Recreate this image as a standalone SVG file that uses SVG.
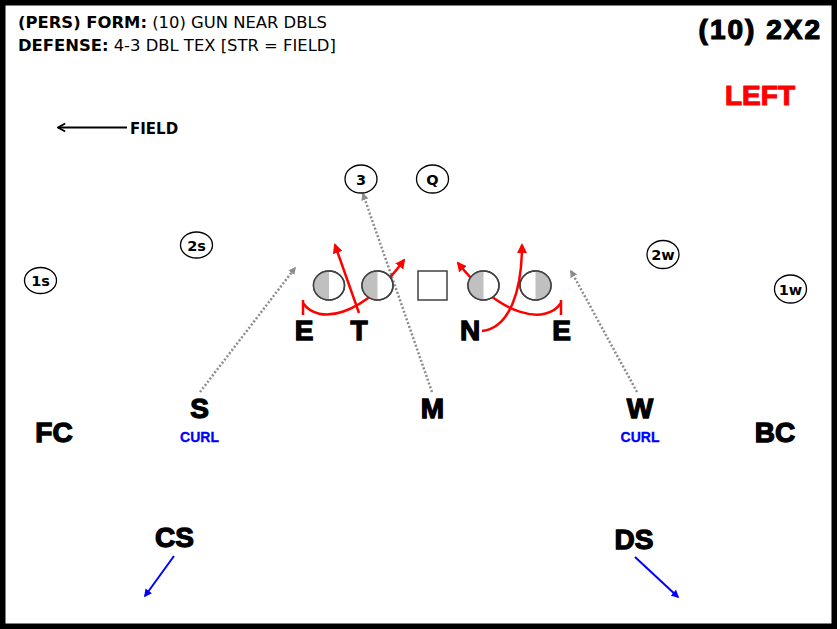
<svg xmlns="http://www.w3.org/2000/svg" width="840" height="629" viewBox="0 0 840 629">
<style>
.hdr{font-family:"DejaVu Sans",Verdana,sans-serif;font-size:16.4px;fill:#000}
.b{font-weight:bold}
.big{font-family:"Liberation Sans",Arial,sans-serif;font-weight:bold;font-size:28px;text-anchor:middle;fill:#000;stroke:#000;stroke-width:1.3}
.curl{font-family:"Liberation Sans",Arial,sans-serif;font-weight:bold;font-size:14px;fill:#0000ff;text-anchor:middle;stroke:#0000ff;stroke-width:0.3}
.oc{fill:#fff;stroke:#000;stroke-width:1.3}
.ol{font-family:"DejaVu Sans",sans-serif;font-weight:bold;font-size:14.5px;text-anchor:middle;fill:#000}
.lm{fill:#fff;stroke:#404040;stroke-width:1.5}
.half{fill:#c0c0c0;stroke:none}
.dash{fill:none;stroke:#8c8c8c;stroke-width:2.5;stroke-dasharray:2 2}
.red{fill:none;stroke:#ff0000;stroke-width:2.5}
.blue{fill:none;stroke:#0000ff;stroke-width:2}
</style>
<defs>
<marker id="ar" viewBox="0 0 10 10" refX="8" refY="5" markerWidth="4" markerHeight="4" orient="auto" markerUnits="strokeWidth"><path d="M0,0 L10,5 L0,10 z" fill="#ff0000"/></marker>
<marker id="ag" viewBox="0 0 10 10" refX="8" refY="5" markerWidth="3" markerHeight="3" orient="auto" markerUnits="strokeWidth"><path d="M0,0 L10,5 L0,10 z" fill="#8c8c8c"/></marker>
<marker id="ab" viewBox="0 0 10 10" refX="8" refY="5" markerWidth="4" markerHeight="4" orient="auto" markerUnits="strokeWidth"><path d="M0,0 L10,5 L0,10 z" fill="#0000ff"/></marker>
<marker id="ak" viewBox="0 0 10 10" refX="9" refY="5" markerWidth="5" markerHeight="6" orient="auto" markerUnits="strokeWidth"><path d="M1,0.5 L9,5 L1,9.5" fill="none" stroke="#000" stroke-width="2"/></marker>
</defs>
<rect x="0" y="0" width="840" height="629" fill="#fff"/>
<rect x="2.75" y="2.75" width="831.5" height="623.5" fill="none" stroke="#000" stroke-width="5.5"/>

<g id="header">
<text class="hdr" x="18" y="28"><tspan class="b">(PERS) FORM:</tspan> (10) GUN NEAR DBLS</text>
<text class="hdr" x="18" y="51"><tspan class="b">DEFENSE:</tspan> 4-3 DBL TEX [STR = FIELD]</text>
<text x="822" y="39" style="font-family:'Liberation Sans',Arial,sans-serif;font-weight:bold;font-size:28px;letter-spacing:2px;text-anchor:end;fill:#000;stroke:#000;stroke-width:1.2">(10) 2X2</text>
<text x="760" y="105" style="font-family:'Liberation Sans',Arial,sans-serif;font-weight:bold;font-size:28px;text-anchor:middle;fill:#ff0000;stroke:#ff0000;stroke-width:1.1">LEFT</text>
</g>

<g id="field">
<line x1="127" y1="127.5" x2="58" y2="127.5" stroke="#000" stroke-width="1.8" marker-end="url(#ak)"/>
<text x="130" y="134" style="font-family:'DejaVu Sans',Verdana,sans-serif;font-weight:bold;font-size:15px;fill:#000">FIELD</text>
</g>

<g id="connectors">
<line class="dash" x1="432" y1="392" x2="363" y2="194" marker-end="url(#ag)"/>
<line class="dash" x1="200" y1="392" x2="295" y2="268" marker-end="url(#ag)"/>
<line class="dash" x1="637" y1="392" x2="571" y2="271" marker-end="url(#ag)"/>
<line x1="303" y1="300" x2="303" y2="315" stroke="#ff0000" stroke-width="2.5"/>
<path class="red" d="M303,303 C318,325 362,318 404,260" marker-end="url(#ar)"/>
<path class="red" d="M359,313 L335,245" marker-end="url(#ar)"/>
<path class="red" d="M482,331 C510,328 522,290 522,245" marker-end="url(#ar)"/>
<line x1="561" y1="300" x2="561" y2="315" stroke="#ff0000" stroke-width="2.5"/>
<path class="red" d="M561,303 C546,325 502,318 458,263" marker-end="url(#ar)"/>
<line class="blue" x1="174" y1="556" x2="145" y2="596" marker-end="url(#ab)"/>
<line class="blue" x1="635" y1="557" x2="678" y2="597" marker-end="url(#ab)"/>
</g>

<g id="n3"><ellipse class="oc" cx="361" cy="179" rx="16" ry="14"/><text class="ol" x="361" y="184.5">3</text></g>
<g id="nQ"><ellipse class="oc" cx="432.5" cy="179" rx="16" ry="14"/><text class="ol" x="432.5" y="184.5">Q</text></g>
<g id="n2s"><ellipse class="oc" cx="196.5" cy="245" rx="16" ry="13"/><text class="ol" x="196.5" y="250.5">2s</text></g>
<g id="n1s"><ellipse class="oc" cx="40.5" cy="280.5" rx="16" ry="13"/><text class="ol" x="40.5" y="286">1s</text></g>
<g id="n2w"><ellipse class="oc" cx="663" cy="254.5" rx="16" ry="14"/><text class="ol" x="663" y="260">2w</text></g>
<g id="n1w"><ellipse class="oc" cx="790.5" cy="289" rx="16" ry="14"/><text class="ol" x="790.5" y="294.5">1w</text></g>

<g id="ol1"><ellipse class="lm" cx="329" cy="285.5" rx="15.5" ry="14.5"/><path class="half" d="M329,271 A15.5,14.5 0 0 0 329,300 Z"/><ellipse cx="329" cy="285.5" rx="15.5" ry="14.5" fill="none" stroke="#404040" stroke-width="1.5"/></g>
<g id="ol2"><ellipse class="lm" cx="377.5" cy="285.5" rx="15.5" ry="14.5"/><path class="half" d="M377.5,271 A15.5,14.5 0 0 0 377.5,300 Z"/><ellipse cx="377.5" cy="285.5" rx="15.5" ry="14.5" fill="none" stroke="#404040" stroke-width="1.5"/></g>
<g id="center"><rect x="418" y="271" width="29" height="29" fill="#fff" stroke="#404040" stroke-width="1.5"/></g>
<g id="ol3"><ellipse class="lm" cx="483.5" cy="285.5" rx="15.5" ry="14.5"/><path class="half" d="M483.5,271 A15.5,14.5 0 0 0 483.5,300 Z"/><ellipse cx="483.5" cy="285.5" rx="15.5" ry="14.5" fill="none" stroke="#404040" stroke-width="1.5"/></g>
<g id="ol4"><ellipse class="lm" cx="535.5" cy="285.5" rx="15.5" ry="14.5"/><path class="half" d="M535.5,271 A15.5,14.5 0 0 1 535.5,300 Z"/><ellipse cx="535.5" cy="285.5" rx="15.5" ry="14.5" fill="none" stroke="#404040" stroke-width="1.5"/></g>

<g id="dE1"><text class="big" x="304" y="340">E</text></g>
<g id="dT"><text class="big" x="359" y="340">T</text></g>
<g id="dN"><text class="big" x="470" y="340">N</text></g>
<g id="dE2"><text class="big" x="561.5" y="340">E</text></g>
<g id="dS"><text class="big" x="199.5" y="418">S</text><text class="curl" x="199.5" y="442">CURL</text></g>
<g id="dM"><text class="big" x="432.5" y="418">M</text></g>
<g id="dW"><text class="big" x="640" y="418">W</text><text class="curl" x="640" y="442">CURL</text></g>
<g id="dFC"><text class="big" x="54" y="442">FC</text></g>
<g id="dBC"><text class="big" x="775" y="442">BC</text></g>
<g id="dCS"><text class="big" x="174.5" y="547">CS</text></g>
<g id="dDS"><text class="big" x="634" y="549">DS</text></g>
</svg>
